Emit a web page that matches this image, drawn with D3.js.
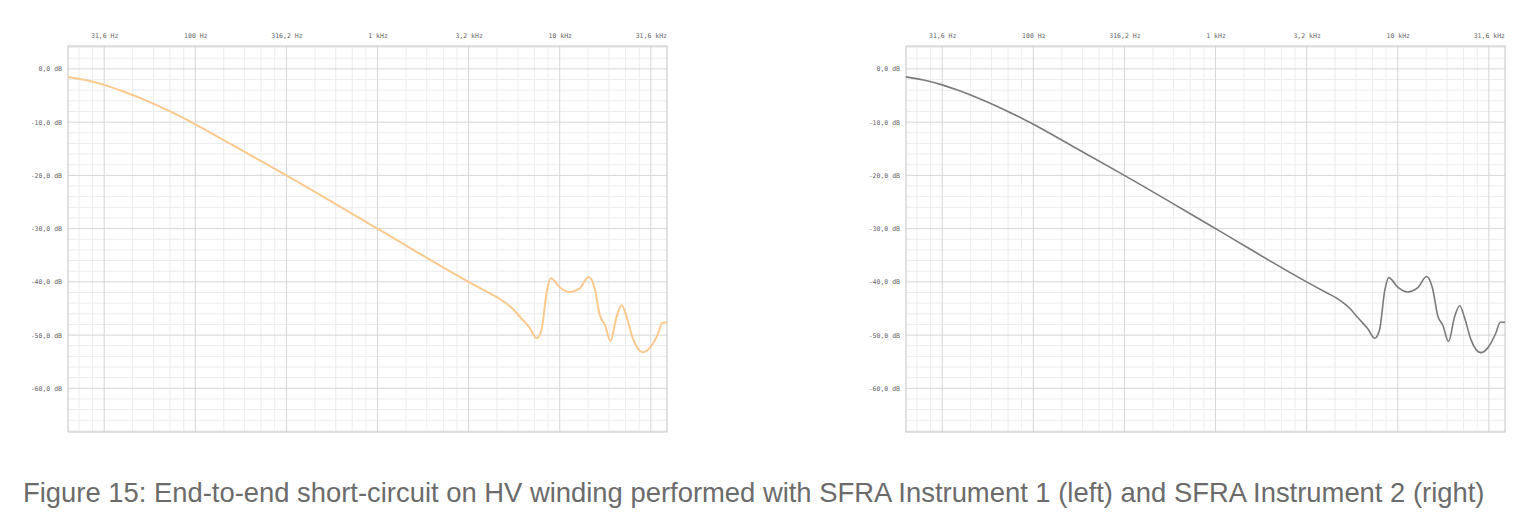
<!DOCTYPE html>
<html>
<head>
<meta charset="utf-8">
<script src="https://cdn.jsdelivr.net/npm/d3@7"></script>
<style>
  body { margin: 0; background: #fff; }
</style>
</head>
<body>
<div id="chart"></div>
<script>
// Frequency sweep (Hz) and magnitude (dB)
const freqs = [20, 25, 31.6, 40, 50, 63, 80, 100, 158, 316, 1000, 3160, 4000, 4690, 5500,
  6030, 6850, 7480, 7950, 8490, 8930, 10000, 11300, 12900, 14400, 15500, 16600, 17700, 19000, 20500, 21900, 23300,
  25200, 28600, 31200, 34400, 36600, 39000];
const dbInstrument1 = [-1.5, -2.1, -3.0, -4.2, -5.5, -7.0, -8.7, -10.4, -14.2, -20.0,
  -30.0, -40.0, -41.9, -43.2, -45.0, -46.5, -48.7, -50.6, -49.0, -41.8, -39.3, -41.0, -41.9, -41.2, -39.1,
  -41.0, -46.2, -48.1, -51.1, -46.6, -44.4, -46.6, -50.6, -53.2, -52.4, -50.0, -47.7, -47.6];
const dbInstrument2 = [-1.5, -2.1, -3.0, -4.2, -5.5, -7.0, -8.7, -10.4, -14.2, -20.0,
  -30.0, -40.0, -41.9, -43.2, -45.1, -46.7, -48.8, -50.6, -49.0, -41.6, -39.2, -41.0, -41.9, -41.1, -39.0,
  -41.1, -46.4, -48.2, -51.2, -46.6, -44.5, -46.8, -50.8, -53.3, -52.4, -49.8, -47.6, -47.6];

// Axis ticks
const majorFreqs = [31.6, 100, 316.2, 1000, 3162, 10000, 31620];
const freqLabels = ["31,6 Hz", "100 Hz", "316,2 Hz", "1 kHz", "3,2 kHz", "10 kHz", "31,6 kHz"];
const dbTicks = [0, -10, -20, -30, -40, -50, -60];
const dbLabels = ["0,0 dB", "-10,0 dB", "-20,0 dB", "-30,0 dB", "-40,0 dB", "-50,0 dB", "-60,0 dB"];

const freqDomain = [20, 38800];
const dbDomain = [4.3, -68.2];

const svg = d3.select("#chart").append("svg")
  .attr("width", 1536)
  .attr("height", 530);

// minor grid: 4 linear steps between each half-decade
const halfDecades = [10, 31.62, 100, 316.2, 1000, 3162, 10000, 31620, 100000];
const minorFreqs = [];
for (let i = 0; i < halfDecades.length - 1; i++) {
  const a = halfDecades[i], b = halfDecades[i + 1];
  for (let k = 1; k < 5; k++) minorFreqs.push(a + (b - a) * k / 5);
}
const minorDb = d3.range(4, -70, -2).filter(d => d % 10 !== 0);

function drawPanel(left, values, color, width, id) {
  const w = 599, h = 386, top = 46;
  const g = svg.append("g").attr("transform", `translate(${left},${top})`);
  const x = d3.scaleLog().domain(freqDomain).range([0, w]);
  const y = d3.scaleLinear().domain(dbDomain).range([0, h]);

  const inX = minorFreqs.filter(f => f > freqDomain[0] && f < freqDomain[1]);
  g.selectAll(".vminor").data(inX).enter().append("line")
    .attr("x1", d => x(d)).attr("x2", d => x(d))
    .attr("y1", 0).attr("y2", h)
    .attr("stroke", "#ececec").attr("stroke-width", 1);
  g.selectAll(".hminor").data(minorDb.filter(d => d < dbDomain[0] && d > dbDomain[1])).enter().append("line")
    .attr("x1", 0).attr("x2", w)
    .attr("y1", d => y(d)).attr("y2", d => y(d))
    .attr("stroke", "#ececec").attr("stroke-width", 1);
  g.selectAll(".vmajor").data(majorFreqs).enter().append("line")
    .attr("x1", d => x(d)).attr("x2", d => x(d))
    .attr("y1", 0).attr("y2", h)
    .attr("stroke", "#d6d6d6").attr("stroke-width", 1);
  g.selectAll(".hmajor").data(dbTicks).enter().append("line")
    .attr("x1", 0).attr("x2", w)
    .attr("y1", d => y(d)).attr("y2", d => y(d))
    .attr("stroke", "#d6d6d6").attr("stroke-width", 1);

  g.append("rect")
    .attr("width", w).attr("height", h)
    .attr("fill", "none").attr("stroke", "#c4c4c4").attr("stroke-width", 1);

  // top axis labels
  g.append("g")
    .call(d3.axisTop(x).tickValues(majorFreqs).tickSize(0).tickPadding(8)
      .tickFormat((d, i) => freqLabels[i]))
    .call(a => a.select(".domain").remove())
    .selectAll("text")
    .style("font-family", "DejaVu Sans Mono, monospace")
    .style("font-size", "6.5px")
    .style("fill", "#666");

  // left axis labels
  g.append("g")
    .call(d3.axisLeft(y).tickValues(dbTicks).tickSize(0).tickPadding(6)
      .tickFormat((d, i) => dbLabels[i]))
    .call(a => a.select(".domain").remove())
    .selectAll("text")
    .style("font-family", "DejaVu Sans Mono, monospace")
    .style("font-size", "6.5px")
    .style("fill", "#666");

  g.append("clipPath").attr("id", id)
    .append("rect").attr("width", w).attr("height", h);

  const line = d3.line()
    .x((d, i) => x(freqs[i]))
    .y(d => y(d))
    .curve(d3.curveMonotoneX);

  g.append("path")
    .datum(values)
    .attr("clip-path", `url(#${id})`)
    .attr("d", line)
    .attr("fill", "none")
    .attr("stroke", color)
    .attr("stroke-width", width)
    .attr("stroke-linejoin", "round");
}

drawPanel(68, dbInstrument1, "#fbc98e", 2, "clipL");
drawPanel(906, dbInstrument2, "#7a7a7a", 1.6, "clipR");

svg.append("text")
  .attr("x", 23)
  .attr("y", 502)
  .style("font-family", "Liberation Sans, Arial, sans-serif")
  .style("font-size", "27.4px")
  .style("fill", "#6b6b6b")
  .text("Figure 15: End-to-end short-circuit on HV winding performed with SFRA Instrument 1 (left) and SFRA Instrument 2 (right)");
</script>
</body>
</html>
